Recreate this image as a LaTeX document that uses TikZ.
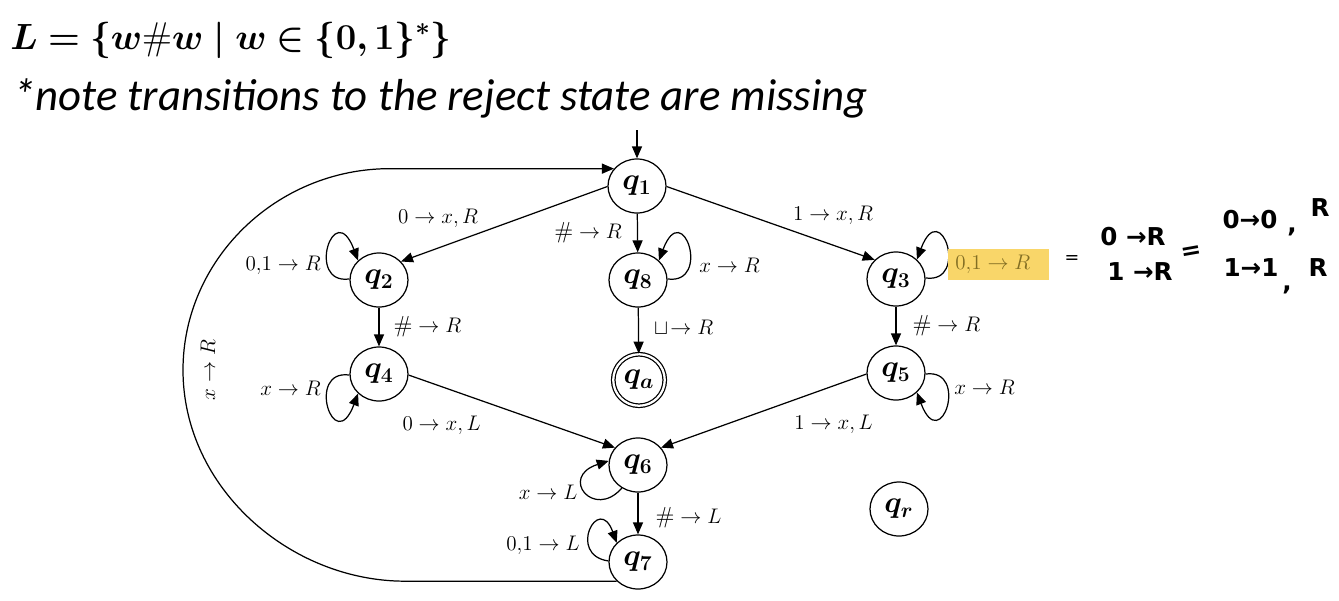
\documentclass[tikz,border=0pt]{standalone}
\usepackage{amsmath,amssymb}
\usepackage{bm}
\usepackage{fontspec}
\newfontfamily\notefont{Carlito}
\newfontfamily\handfont{DejaVu Sans}
\usetikzlibrary{
  arrows.meta,
  shapes.geometric,
  positioning
}
\definecolor{xhigh}{RGB}{249,214,105}
\definecolor{xolive}{RGB}{130,110,35}

\begin{document}
\begin{tikzpicture}[x=0.2mm, y=-0.2mm,
  state/.style={draw, ellipse, line width=0.7pt, minimum width=11.6mm, minimum height=10.8mm,
                inner sep=0pt, font=\fontsize{16.5}{18}\selectfont},
  accept/.style={circle, double, double distance=0.45mm, minimum size=10.3mm},
  trans/.style={-{Triangle[length=2.4mm,width=2mm]}, line width=0.7pt},
  lbl/.style={inner sep=0pt, font=\fontsize{13.2}{15}\selectfont},
  hl/.style={fill=xhigh, text=xolive, inner xsep=1.4mm, inner ysep=1.3mm},
  hand/.style={inner sep=0pt, font=\handfont\bfseries\fontsize{14}{16}\selectfont}
]
  \useasboundingbox[fill=white] (0,0) rectangle (1339,601);

  % heading
  \node[anchor=west, inner sep=0pt, font=\fontsize{22}{26}\selectfont] (lang) at (10,40)
    {$\bm{L=\{w\#w \mid w\in\{0,1\}^*\}}$};
  \node[anchor=west, inner sep=0pt, font=\notefont\itshape\fontsize{25.5}{28}\selectfont] (note) at (13,98)
    {*note transitions to the reject state are missing};

  % states
  \node[state] (q1) at (637,186) {$\bm{q_1}$};
  \node[state] (q2) at (379,280) {$\bm{q_2}$};
  \node[state] (q8) at (638,280) {$\bm{q_8}$};
  \node[state,accept] (qa) at (639,380) {$\bm{q_a}$};
  \node[state] (q3) at (896,279) {$\bm{q_3}$};
  \node[state] (q4) at (379,374) {$\bm{q_4}$};
  \node[state] (q5) at (896,373) {$\bm{q_5}$};
  \node[state] (q6) at (638,465) {$\bm{q_6}$};
  \node[state] (q7) at (638,562) {$\bm{q_7}$};
  \node[state] (qr) at (899,509) {$\bm{q_r}$};
  \coordinate (init) at (637,130);

  % transitions
  \draw[trans] (init) -- (q1);
  \draw[trans] (q1.181) -- node[lbl, pos=.82, yshift=6mm] {$0 \to x, R$} (q2.40);
  \draw[trans] (q1.359) -- node[lbl, pos=.8, yshift=6mm] {$1 \to x, R$} (q3.138);
  \draw[trans] (q1) -- node[lbl, left=3mm] {$\# \to R$} (q8);
  \draw[trans] (q2) -- node[lbl, right=2.8mm] {$\# \to R$} (q4);
  \draw[trans] (q8) -- node[lbl, pos=.43, right=3mm] {$\sqcup\!\to R$} (qa);
  \draw[trans] (q3) -- node[lbl, right=3.2mm] {$\# \to R$} (q5);
  \draw[trans] (q4.358) -- node[lbl, pos=.16, yshift=-7.7mm] {$0 \to x, L$} (q6.143);
  \draw[trans] (q5.182) -- node[lbl, pos=.16, yshift=-7.7mm] {$1 \to x, L$} (q6.37);
  \draw[trans] (q6) -- node[lbl, pos=.6, right=3.4mm] {$\# \to L$} (q7);

  % self loops
  \draw[trans] (q2.178) .. controls +(-44,6) and +(-24,-64) ..
    node[lbl, pos=.3, left=1.2mm] {$0{,}1 \to R$} (q2.137);
  \draw[trans] (q8.2) .. controls +(44,6) and +(24,-64) ..
    node[lbl, pos=.3, right=1.8mm] {$x \to R$} (q8.43);
  \draw[trans] (q3.2) .. controls +(44,6) and +(24,-64) ..
    node[lbl, hl, pos=.3, right=0mm] {$0{,}1 \to R$\kern2.4mm} (q3.43);
  \draw[trans] (q4.182) .. controls +(-44,-6) and +(-24,64) ..
    node[lbl, pos=.3, left=1.2mm] {$x \to R$} (q4.223);
  \draw[trans] (q5.358) .. controls +(44,-6) and +(24,64) ..
    node[lbl, pos=.3, right=1.2mm] {$x \to R$} (q5.317);
  \draw[trans] (q6.235) .. controls +(-28,32) and +(-50,16) ..
    node[lbl, pos=.5, left=1.6mm] {$x \to L$} (q6.172);
  \draw[trans] (q7.178) .. controls +(-42,-6) and +(-18,-50) ..
    node[lbl, pos=.3, left=1.6mm] {$0{,}1 \to L$} (q7.138);

  % back to q1
  \draw[trans] (q7.222) -- (405,0 |- q7.222)
    .. controls +(-115,0) and +(0,118) .. (183,370)
    node[lbl, rotate=90, anchor=north, inner ysep=3.4mm] {$x \to R$}
    .. controls +(0,-110) and +(-114,0) .. (390,0 |- q1.143) -- (q1.143);

  % handwritten notes
  \node[hand, font=\handfont\fontsize{10}{12}\selectfont] (eqa) at (1072,260) {=};
  \node[hand] (h0r) at (1133,237) {0 →R};
  \node[hand] (h1r) at (1140,272) {1 →R};
  \node[hand, rotate=10] (eqb) at (1192,253) {=};
  \node[hand] (h00) at (1250,220) {0→0};
  \node[hand] (c1) at (1292,232) {,};
  \node[hand] (hr1) at (1320,208) {R};
  \node[hand] (h11) at (1251,268) {1→1};
  \node[hand] (c2) at (1287,290) {,};
  \node[hand] (hr2) at (1318,268) {R};
\end{tikzpicture}
\end{document}
